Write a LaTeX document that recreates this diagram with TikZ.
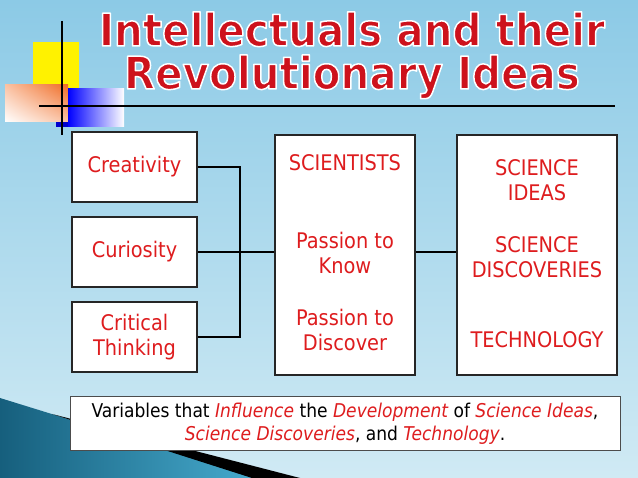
\documentclass[tikz,border=0pt]{standalone}
\usepackage{fontspec}
\setmainfont{DejaVu Sans Condensed}
\usetikzlibrary{positioning,shadings}

\definecolor{bgtop}{RGB}{140,202,230}
\definecolor{bgbot}{RGB}{208,234,244}
\definecolor{titred}{RGB}{205,18,28}
\definecolor{txtred}{RGB}{222,28,30}
\newcommand{\redit}[1]{\textcolor{txtred}{\itshape #1}}
% 白色描边的标题文字
\newcommand{\outlined}[1]{{\color{titred}\special{pdf:literal direct 1 1 1 RG 1.5 w 1 j 2 Tr}#1\special{pdf:literal direct 0 Tr}}}

\begin{document}
\begin{tikzpicture}[x=1pt,y=-1pt,
        % 方框样式
        boxNode/.style={rectangle,draw=black!85,fill=white,line width=2.2pt},
        redText/.style={text=txtred,font=\fontsize{21.5}{25}\selectfont,align=center},
        titleText/.style={font=\fontsize{45}{45}\selectfont\bfseries,anchor=base},
        conn/.style={draw=black,line width=2.4pt}]

        % 背景渐变
        \shade[top color=bgtop,bottom color=bgbot](0,0)rectangle(638,478);

        % 左下角装饰
        \shade[left color={rgb,255:red,22;green,95;blue,125},right color={rgb,255:red,70;green,170;blue,205}]
            (0,398)--(55,415)--(255,478)--(0,478)--cycle;
        \fill[black](52,414)--(300,478)--(252,478)--cycle;

        % 左上角装饰方块
        \fill[yellow](33,42)rectangle(79,90);
        \shade[lower left=white,upper right={rgb,255:red,240;green,110;blue,40},
               upper left={rgb,255:red,250;green,195;blue,165},lower right={rgb,255:red,250;green,195;blue,165}]
            (5,85)rectangle(68,122);
        \shade[left color=blue,right color=white](68,89)rectangle(124,127);
        \fill[blue!80!black](56,122)rectangle(68,127);
        \draw[line width=1.6pt](62,21)--(62,135);
        \draw[line width=1.6pt](39,106)--(615,106);

        % 标题
        \node[titleText] (title1) at (352,46) {\outlined{Intellectuals and their}};
        \node[titleText] (title2) at (352,89) {\outlined{Revolutionary Ideas}};

        % 左侧三个方框
        \node[boxNode,redText,minimum width=125,minimum height=70] (cre) at (134.5,167) {Creativity};
        \node[boxNode,redText,minimum width=125,minimum height=70] (cur) at (134.5,252) {Curiosity};
        \node[boxNode,redText,minimum width=125,minimum height=70] (crt) at (134.5,337) {Critical\\Thinking};

        % 中间和右侧方框
        \node[boxNode,minimum width=140,minimum height=240] (sci) at (345,255) {};
        \node[boxNode,minimum width=160,minimum height=240] (res) at (537,255) {};

        % 方框内文字
        \node[redText] (sciA) at (345,163) {SCIENTISTS};
        \node[redText] (sciB) at (345,253) {Passion to\\Know};
        \node[redText] (sciC) at (345,330) {Passion to\\Discover};
        \node[redText] (resA) at (537,180) {SCIENCE\\IDEAS};
        \node[redText] (resB) at (537,257) {SCIENCE\\DISCOVERIES};
        \node[redText] (resC) at (537,340) {TECHNOLOGY};

        % 连线
        \coordinate (bus) at (240,252);
        \draw[conn](cre.east)-|(bus)|-(crt.east);
        \draw[conn](cur.east)--(cur.east-|sci.west);
        \draw[conn](sci.east|-cur.east)--(res.west|-cur.east);

        % 底部说明
        \node[boxNode,draw=black!70,line width=1pt,minimum width=550,minimum height=54,align=center,
              font=\fontsize{19}{23}\selectfont] (note) at (345,424)
            {Variables that \redit{Influence} the \redit{Development} of \redit{Science Ideas},\\
             \redit{Science Discoveries}, and \redit{Technology}.};
\end{tikzpicture}
\end{document}
